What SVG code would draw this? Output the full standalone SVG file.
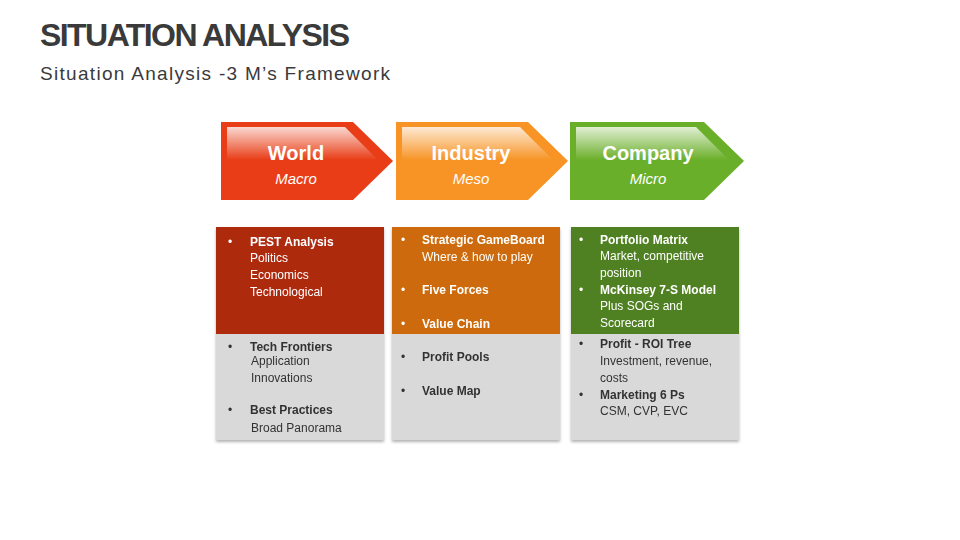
<svg xmlns="http://www.w3.org/2000/svg" width="960" height="540" viewBox="0 0 960 540">
<defs>
<linearGradient id="hl" x1="0" y1="0" x2="0" y2="1"><stop offset="0" stop-color="#fff" stop-opacity="0.8"/><stop offset="1" stop-color="#fff" stop-opacity="0"/></linearGradient>
<filter id="sh" x="-5%" y="-5%" width="110%" height="110%"><feDropShadow dx="0" dy="2" stdDeviation="1.5" flood-opacity="0.3"/></filter>
</defs>
<style>
text{font-family:"Liberation Sans",Arial,sans-serif}
.h{font-size:20px;font-weight:bold;fill:#fff;text-anchor:middle}
.s{font-size:15px;font-style:italic;fill:#fff;text-anchor:middle}
.w{font-size:12px;fill:#fff}
.g{font-size:12px;fill:#333}
.b{font-weight:bold}
</style>
<text x="40" y="46" font-size="32" font-weight="bold" fill="#3a3a3a" textLength="310">SITUATION ANALYSIS</text>
<text x="40" y="80" font-size="19" fill="#3a3a3a" textLength="350">Situation Analysis -3 M’s Framework</text>
<g id="world">
<polygon points="221,122 353,122 393,161 353,200 221,200" fill="#e83d17"/>
<polygon points="227,127 345,127 378,160 227,160" fill="url(#hl)"/>
<text class="h" x="296" y="160">World</text><text class="s" x="296" y="184">Macro</text>
</g>
<g id="industry">
<polygon points="396,122 528,122 568,161 528,200 396,200" fill="#f79425"/>
<polygon points="402,127 520,127 553,160 402,160" fill="url(#hl)"/>
<text class="h" x="471" y="160">Industry</text><text class="s" x="471" y="184">Meso</text>
</g>
<g id="company">
<polygon points="570,122 704,122 744,161 704,200 570,200" fill="#6aaf29"/>
<polygon points="576,127 696,127 729,160 576,160" fill="url(#hl)"/>
<text class="h" x="648" y="160">Company</text><text class="s" x="648" y="184">Micro</text>
</g>
<g id="col1" filter="url(#sh)">
<rect x="216" y="227" width="168" height="107" fill="#ae2a11"/>
<rect x="216" y="334" width="168" height="106" fill="#d9d9d9"/>
<text class="w"><tspan x="228" y="246">•</tspan><tspan x="250" class="b">PEST Analysis</tspan><tspan x="250" y="262">Politics</tspan><tspan x="250" y="279">Economics</tspan><tspan x="250" y="296">Technological</tspan></text>
<text class="g"><tspan x="228" y="351">•</tspan><tspan x="250" class="b">Tech Frontiers</tspan><tspan x="251" y="365">Application</tspan><tspan x="251" y="382">Innovations</tspan><tspan x="228" y="414">•</tspan><tspan x="250" class="b">Best Practices</tspan><tspan x="251" y="432">Broad Panorama</tspan></text>
</g>
<g id="col2" filter="url(#sh)">
<rect x="392" y="227" width="168" height="107" fill="#cd6b08"/>
<rect x="392" y="334" width="168" height="106" fill="#d9d9d9"/>
<text class="w"><tspan x="401" y="244">•</tspan><tspan x="422" class="b">Strategic GameBoard</tspan><tspan x="422" y="261">Where &amp; how to play</tspan><tspan x="401" y="294">•</tspan><tspan x="422" class="b">Five Forces</tspan><tspan x="401" y="328">•</tspan><tspan x="422" class="b">Value Chain</tspan></text>
<text class="g"><tspan x="401" y="361">•</tspan><tspan x="422" class="b">Profit Pools</tspan><tspan x="401" y="395">•</tspan><tspan x="422" class="b">Value Map</tspan></text>
</g>
<g id="col3" filter="url(#sh)">
<rect x="571" y="227" width="168" height="107" fill="#4f8020"/>
<rect x="571" y="334" width="168" height="106" fill="#d9d9d9"/>
<text class="w"><tspan x="579" y="244">•</tspan><tspan x="600" class="b">Portfolio Matrix</tspan><tspan x="600" y="260">Market, competitive</tspan><tspan x="600" y="277">position</tspan><tspan x="579" y="294">•</tspan><tspan x="600" class="b">McKinsey 7-S Model</tspan><tspan x="600" y="310">Plus SOGs and</tspan><tspan x="600" y="327">Scorecard</tspan></text>
<text class="g"><tspan x="579" y="348">•</tspan><tspan x="600" class="b">Profit -  ROI Tree</tspan><tspan x="600" y="365">Investment, revenue,</tspan><tspan x="600" y="382">costs</tspan><tspan x="579" y="399">•</tspan><tspan x="600" class="b">Marketing 6 Ps</tspan><tspan x="600" y="415">CSM, CVP, EVC</tspan></text>
</g>
<g id="connectors"/>
</svg>
